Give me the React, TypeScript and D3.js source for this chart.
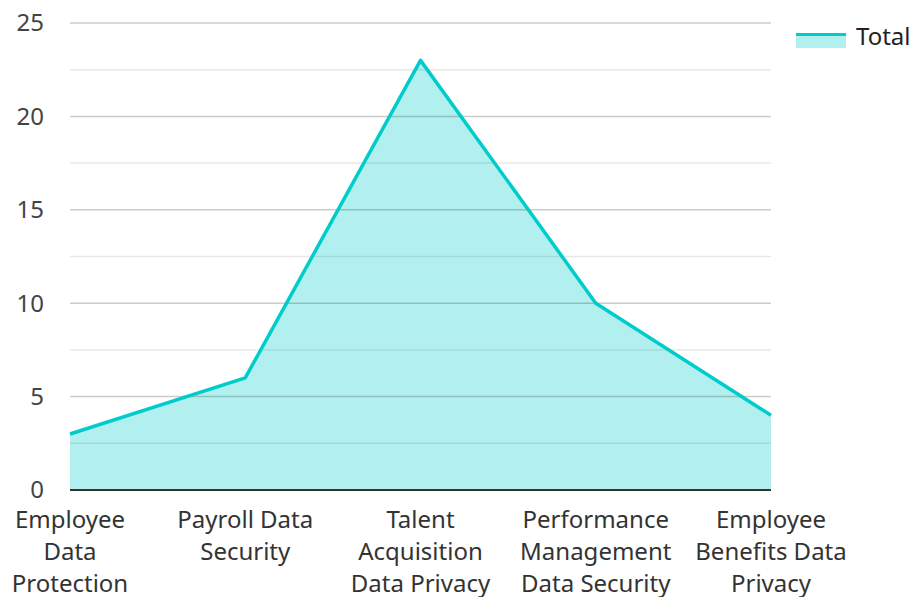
import React from 'react';
import * as d3 from 'd3';

const categories = [
  'Employee Data Protection',
  'Payroll Data Security',
  'Talent Acquisition Data Privacy',
  'Performance Management Data Security',
  'Employee Benefits Data Privacy',
];
const categoryLines = [
  ['Employee', 'Data', 'Protection'],
  ['Payroll Data', 'Security'],
  ['Talent', 'Acquisition', 'Data Privacy'],
  ['Performance', 'Management', 'Data Security'],
  ['Employee', 'Benefits Data', 'Privacy'],
];
const totals = [3, 6, 23, 10, 4];
const majorTicks = [0, 5, 10, 15, 20, 25];
const minorTicks = [2.5, 7.5, 12.5, 17.5, 22.5];

const W = 913;
const H = 597;
const margin = { top: 23, right: 142, bottom: 107, left: 70 };
const LINE = '#00cccc';
const FONT = '"Noto Sans", "Open Sans", sans-serif';

const App: React.FC = () => {
  const x = d3.scalePoint<string>()
    .domain(categories)
    .range([margin.left, W - margin.right])
    .padding(0);
  const y = d3.scaleLinear().domain([0, 25]).range([H - margin.bottom, margin.top]);

  const data = categories.map((c, i) => ({ c, v: totals[i] }));
  const area = d3.area<{ c: string; v: number }>()
    .x(d => x(d.c) as number)
    .y0(y(0))
    .y1(d => y(d.v));
  const line = d3.line<{ c: string; v: number }>()
    .x(d => x(d.c) as number)
    .y(d => y(d.v));

  const x0 = margin.left;
  const x1 = W - margin.right;

  return (
    <svg width={W} height={H} style={{ position: 'absolute', left: 0, top: 0, fontFamily: FONT }}>
      <path d={area(data) ?? ''} fill={LINE} fillOpacity={0.3} />
      {minorTicks.map(t => (
        <line key={'m' + t} x1={x0} x2={x1} y1={y(t)} y2={y(t)} stroke="#000" strokeOpacity={0.09} strokeWidth={1.5} />
      ))}
      {majorTicks.filter(t => t > 0).map(t => (
        <line key={'g' + t} x1={x0} x2={x1} y1={y(t)} y2={y(t)} stroke="#000" strokeOpacity={0.2} strokeWidth={1.5} />
      ))}
      <path d={line(data) ?? ''} fill="none" stroke={LINE} strokeWidth={3.5} strokeLinejoin="round" />
      <line x1={x0} x2={x1} y1={y(0)} y2={y(0)} stroke="#333" strokeWidth={2} />
      {majorTicks.map(t => (
        <text key={'t' + t} x={44} y={y(t)} dy="0.35em" textAnchor="end" fontSize={24} fill="#444">
          {t}
        </text>
      ))}
      {categories.map((c, i) => (
        <text key={c} x={x(c)} y={y(0) + 38} textAnchor="middle" fontSize={24} fill="#333">
          {categoryLines[i].map((l, j) => (
            <tspan key={j} x={x(c)} dy={j === 0 ? 0 : 32}>{l}</tspan>
          ))}
        </text>
      ))}
      <g transform="translate(796, 33)">
        <rect x={0} y={0} width={50} height={15} fill={LINE} fillOpacity={0.3} />
        <line x1={0} x2={50} y1={1.5} y2={1.5} stroke={LINE} strokeWidth={3} />
        <text x={60} y={12} fontSize={24} fill="#222">Total</text>
      </g>
    </svg>
  );
};

export default App;
